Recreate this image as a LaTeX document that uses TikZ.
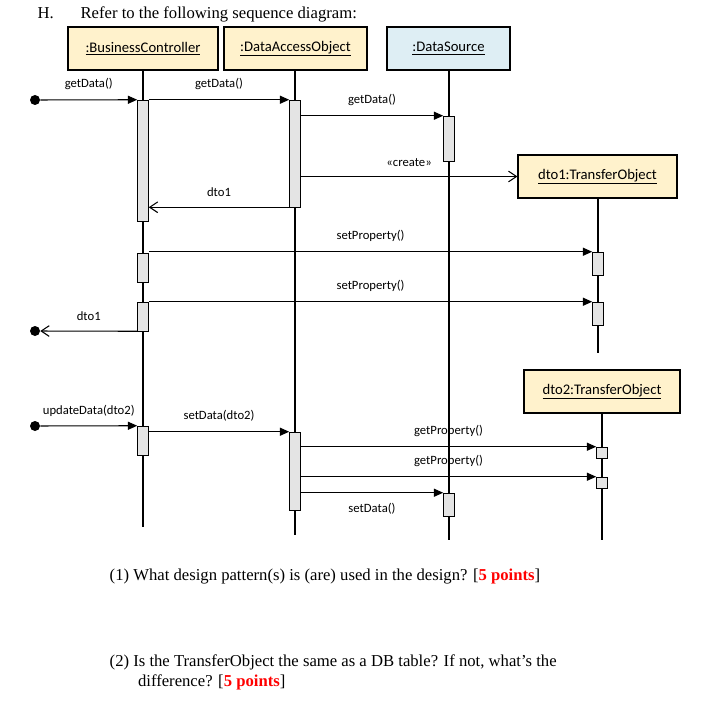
\documentclass[tikz,border=0pt]{standalone}
\usepackage{fontspec}
\setmainfont{Liberation Serif}
\newfontfamily\diag{Carlito}
\usetikzlibrary{arrows.meta}
\definecolor{objyellow}{RGB}{255,242,204}
\definecolor{objblue}{RGB}{222,238,244}
\definecolor{actgray}{RGB}{228,228,228}
\begin{document}
\begin{tikzpicture}[x=0.75pt,y=-0.75pt,
    obj/.style={draw,thick,fill=objyellow,minimum height=32.25pt,inner sep=0pt,font=\diag\fontsize{11}{12}\selectfont},
    act/.style={draw,fill=actgray,minimum width=8.25pt,inner sep=0pt},
    life/.style={thick},
    msg/.style={thick,-{Triangle[length=7pt,width=6pt]}},
    ret/.style={thick,-{Straight Barb[length=6pt,width=8pt]}},
    lbl/.style={font=\diag\fontsize{9.5}{11}\selectfont},
    dot/.style={circle,fill,inner sep=0pt,minimum size=7.5pt}]
  \useasboundingbox (0,0) rectangle (715,710);
  \node[anchor=west,font=\fontsize{12.5}{14}\selectfont] (title) at (33,14) {H.\hspace{1.6em}Refer to the following sequence diagram:};
  % objects
  \node[obj,minimum width=112.5pt] (bc) at (143,48.5) {\underline{:BusinessController}};
  \node[obj,minimum width=107.25pt] (dao) at (295.5,48.5) {\underline{:DataAccessObject}};
  \node[obj,fill=objblue,minimum width=92.25pt] (ds) at (448.5,48.5) {\underline{:DataSource}};
  \node[obj,minimum width=119.25pt] (dto1) at (597.5,176.5) {\underline{dto1:TransferObject}};
  \node[obj,minimum width=117pt] (dto2) at (602,391.5) {\underline{dto2:TransferObject}};
  % lifelines
  \coordinate (bcend) at (143,527);
  \coordinate (daoend) at (295,535);
  \coordinate (dsend) at (449,540);
  \coordinate (dtoAend) at (598,353);
  \coordinate (dtoBend) at (602,540);
  \draw[life] (bc.south -| bcend) -- (bcend);
  \draw[life] (dao.south -| daoend) -- (daoend);
  \draw[life] (ds.south -| dsend) -- (dsend);
  \draw[life] (dto1.south -| dtoAend) -- (dtoAend);
  \draw[life] (dto2.south) -- (dtoBend);
  % activations
  \node[act,minimum height=90.75pt] (bc1) at (143,160.5) {};
  \node[act,minimum height=21.75pt] (bc2) at (143,267.5) {};
  \node[act,minimum height=21.75pt] (bc3) at (143,316.5) {};
  \node[act,minimum height=21.75pt] (bc4) at (143,440.5) {};
  \node[act,minimum height=80.25pt] (dao1) at (295,153.5) {};
  \node[act,minimum height=58.5pt] (dao2) at (295,471) {};
  \node[act,minimum height=33.75pt] (ds1) at (449,138.5) {};
  \node[act,minimum height=17.25pt] (ds2) at (449,504.5) {};
  \node[act,minimum height=17.25pt] (da1) at (598,263.5) {};
  \node[act,minimum height=17.25pt] (da2) at (598,313.5) {};
  \node[act,minimum height=8.25pt] (db1) at (602,452.5) {};
  \node[act,minimum height=8.25pt] (db2) at (602,482.5) {};
  % found / lost messages
  \node[dot] (start1) at (35,100) {};
  \node[dot] (end1) at (35,331) {};
  \node[dot] (start2) at (35,426) {};
  % messages
  \draw[msg] (start1) -- (bc1.north west) node[lbl,midway,above=4pt] {getData()};
  \draw[msg] (bc1.north east) -- (dao1.north west) node[lbl,midway,above=4pt] {getData()};
  \draw[msg] (dao1.east |- ds1.north) -- (ds1.north west) node[lbl,midway,above=4pt] {getData()};
  \draw[ret] (dao1.east |- dto1.west) -- (dto1.west) node[lbl,midway,above=4pt] {«create»};
  \draw[ret] (dao1.south west) -- (bc1.east |- dao1.south) node[lbl,midway,above=4pt] {dto1};
  \draw[msg] (bc2.north east |- da1.north) -- (da1.north west) node[lbl,midway,above=4pt] {setProperty()};
  \draw[msg] (bc3.north east |- da2.north) -- (da2.north west) node[lbl,midway,above=4pt] {setProperty()};
  \draw[ret] (bc3.south west) -- (end1) node[lbl,midway,above=4pt] {dto1};
  \draw[msg] (start2) -- (bc4.north west) node[lbl,midway,above=3pt] {updateData(dto2)};
  \draw[msg] (bc4.east |- dao2.north) -- (dao2.north west) node[lbl,midway,above=4pt] {setData(dto2)};
  \draw[msg] (dao2.east |- db1.north) -- (db1.north west) node[lbl,pos=0.5,above=4pt] {getProperty()};
  \draw[msg] (dao2.east |- db2.north) -- (db2.north west) node[lbl,pos=0.5,above=4pt] {getProperty()};
  \draw[msg] (dao2.east |- ds2.north) -- (ds2.north west) node[lbl,midway,below=4pt] {setData()};
  % questions
  \node[anchor=west,font=\fontsize{12.5}{14}\selectfont] (q1) at (105,577) {(1) What design pattern(s) is (are) used in the design? [\textcolor{red}{\textbf{5 points}}]};
  \node[anchor=north west,align=left,font=\fontsize{12.5}{15}\selectfont] (q2) at (105,650) {(2) Is the TransferObject the same as a DB table? If not, what's the\\\hspace{1.7em}difference? [\textcolor{red}{\textbf{5 points}}]};
\end{tikzpicture}
\end{document}
